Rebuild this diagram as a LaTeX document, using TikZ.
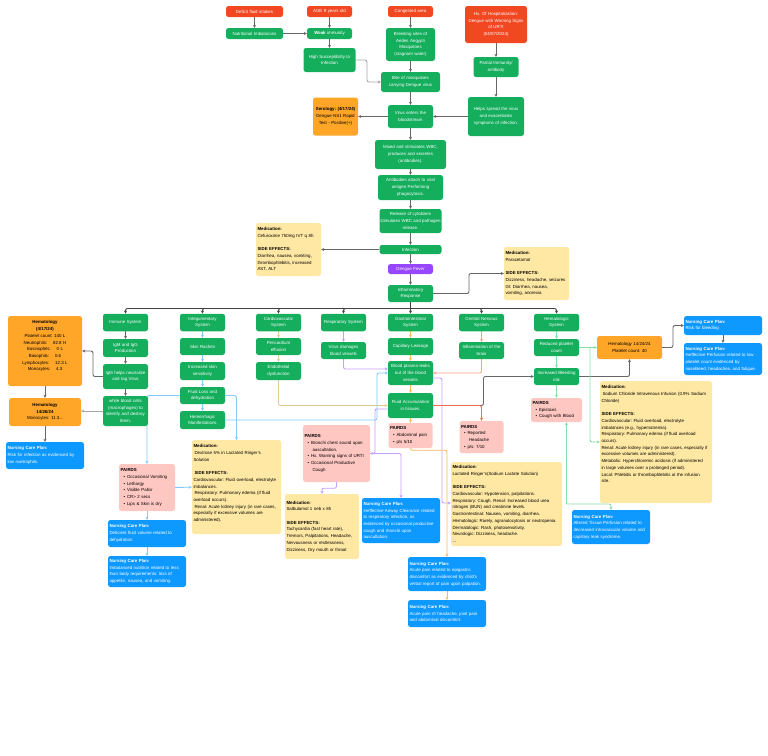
\documentclass[tikz,border=0pt]{standalone}
\usepackage{fontspec}
\setmainfont{Liberation Sans}
\usetikzlibrary{arrows.meta,backgrounds}
\frenchspacing
\definecolor{cgreen}{HTML}{14AE5C}
\definecolor{cred}{HTML}{F24822}
\definecolor{corange}{HTML}{FFA629}
\definecolor{cpurple}{HTML}{9747FF}
\definecolor{cblue}{HTML}{0D99FF}
\definecolor{cpale}{HTML}{FFE8A3}
\definecolor{cpink}{HTML}{FFC7C2}
\definecolor{lblue}{HTML}{80CAFF}
\definecolor{lpurple}{HTML}{C4A0FF}
\definecolor{lorange}{HTML}{FFB95C}
\definecolor{lsalmon}{HTML}{FF9E85}
\definecolor{lgreen}{HTML}{85E0A3}
\definecolor{ltan}{HTML}{E2C98F}
\newcommand{\itm}{\hspace*{3pt}\textbullet\hspace{2pt}}
\newcommand{\cont}{\hspace*{8pt}}
\tikzset{
  base/.style={rounded corners=2.5pt,inner sep=0pt,font=\fontsize{4.4}{6.7}\selectfont},
  sz/.style 2 args={minimum width=#1pt,minimum height=#2pt,text width={#1pt-1pt},inner xsep=.5pt},
  szl/.style 2 args={minimum width=#1pt,minimum height=#2pt,text width={#1pt-3pt},inner xsep=1.5pt},
  greenb/.style={base,fill=cgreen,text=white,align=center},
  redb/.style={base,fill=cred,text=white,align=center},
  purpleb/.style={base,fill=cpurple,text=white,align=center},
  orangeb/.style={base,fill=corange,align=center},
  paleb/.style={base,fill=cpale,align=left},
  pinkb/.style={base,fill=cpink,align=left},
  careb/.style={base,fill=cblue,text=white,align=left},
  flow/.style={->,>={Stealth[length=3pt,width=3pt]},line width=.9pt,rounded corners=2pt,draw=#1},
  flow/.default={black!60}
}
\begin{document}
\begin{tikzpicture}[x=1pt,y=-1pt]
  \useasboundingbox (0,0) rectangle (768,755);
  \node[redb,sz={57}{11}] (deficit) at (254.5,11.5) {Deficit fluid intakes};
  \node[redb,sz={45}{11}] (age) at (329.5,11.5) {AGE 9 years old};
  \node[redb,sz={45}{11}] (congested) at (410.5,11.5) {Congested area};
  \node[redb,sz={62}{37}] (hx) at (496,24.5) {Hx. Of Hospitalization:\\Dengue with Warning Signs\\of URTI\\(04/07/2024)};
  \node[greenb,sz={57}{11}] (nutri) at (254.5,33.5) {Nutritional Imbalances};
  \node[greenb,sz={45}{11}] (weak) at (329.5,33.5) {\textbf{Weak} immunity};
  \node[greenb,sz={52}{24}] (suscept) at (329.5,60) {High Susceptibility to\\Infection};
  \node[greenb,sz={49}{33}] (breeding) at (410.5,44.5) {Breeding sites of\\Aedes Aegypti\\Mosquitoes\\(stagnant water)};
  \node[greenb,sz={59}{20}] (bite) at (410.5,82) {Bite of mosquitoes\\carrying Dengue virus};
  \node[greenb,sz={45}{20}] (partial) at (496,67) {Partial Immunity/\\antibody};
  \node[greenb,sz={56}{39}] (helps) at (496,116.5) {Helps spread the virus\\and exacerbates\\symptoms of infection.};
  \node[greenb,sz={45}{23}] (virus) at (410.5,116.5) {Virus enters the\\bloodstream};
  \node[orangeb,sz={45}{38}] (serology) at (335.5,116.5) {\textbf{Serology: (4/17/24)}\\Dengue NS1 Rapid\\Test - Positive(+)};
  \node[greenb,sz={71}{29}] (mixed) at (410.5,154.5) {Mixed and stimulates WBC,\\produces and secretes\\(antibodies).};
  \node[greenb,sz={65}{25}] (antibody) at (410.5,187.5) {Antibodies attach to viral\\antigen Performing\\phagocytosis.};
  \node[greenb,sz={62}{24}] (cytokine) at (410.5,221) {Release of cytokines\\stimulates WBC and pathogen\\release.};
  \node[greenb,sz={62}{9}] (infection) at (410.5,249.5) {Infection};
  \node[purpleb,sz={45}{10}] (dengue) at (410.5,269) {Dengue Fever};
  \node[greenb,sz={45}{17}] (inflam) at (410.5,293.5) {Inflammatory\\Response};
  \node[paleb,szl={65}{53}] (medcef) at (288.5,249.5) {\textbf{Medication:}\\Cefuroxime 750mg IVT q 8h\\[6.7pt]\textbf{SIDE EFFECTS:}\\Diarrhea, nausea, vomiting,\\thrombophlebitis, increased\\AST, ALT};
  \node[paleb,szl={65}{53}] (medpara) at (536.5,273.5) {\textbf{Medication:}\\Paracetamol\\[6.7pt]\textbf{SIDE EFFECTS:}\\Dizziness, headache, seizures\\GI: Diarrhea, nausea,\\vomiting, anorexia};
  \node[greenb,sz={45}{17.5}] (immune) at (125.5,322.5) {Immune System};
  \node[greenb,sz={45}{18}] (iggm) at (125.5,348) {IgM and IgG\\Production};
  \node[greenb,sz={45}{25}] (igmtag) at (125.5,376.5) {IgM helps neutralize\\and tag Virus};
  \node[greenb,sz={45}{30}] (wbc) at (125.5,411) {white blood cells\\(macrophages) to\\identify and destroy\\them.};
  \node[greenb,sz={45}{17.5}] (integ) at (202.5,322.5) {Integumentary\\System};
  \node[greenb,sz={45}{17}] (skin) at (202.5,346.5) {Skin Rashes};
  \node[greenb,sz={45}{18}] (sens) at (202.5,371) {Increased skin\\sensitivity};
  \node[greenb,sz={45}{17}] (fluidloss) at (202.5,395.5) {Fluid Loss and\\dehydration};
  \node[greenb,sz={45}{18}] (hemorr) at (202.5,420) {Hemorrhagic\\Manifestations};
  \node[greenb,sz={45}{17.5}] (cardio) at (278.5,322.5) {Cardiovascular\\System};
  \node[greenb,sz={45}{17}] (pericard) at (278.5,346.5) {Pericardium\\effusion};
  \node[greenb,sz={45}{18}] (endo) at (278.5,371) {Endothelial\\dysfunction};
  \node[greenb,sz={45}{17.5}] (resp) at (343.5,322.5) {Respiratory System};
  \node[greenb,sz={45}{17}] (vdamage) at (343.5,350.5) {Virus damages\\blood vessels};
  \node[greenb,sz={45}{17.5}] (gastro) at (410.5,322.5) {Gastrointestinal\\System};
  \node[greenb,sz={45}{17}] (capil) at (410.5,346.5) {Capillary Leakage};
  \node[greenb,sz={45}{24}] (plasma) at (410.5,373) {Blood plasma leaks\\out of the blood\\vessels};
  \node[greenb,sz={45}{25}] (accum) at (410.5,405.5) {Fluid Accumulation\\in tissues.};
  \node[pinkb,szl={44}{25}] (pgi) at (410.5,435.5) {\textbf{PAIRDS}\\\itm Abdominal pain\\\itm p/s 5/10};
  \node[greenb,sz={45}{17.5}] (cns) at (481.5,322.5) {Central Nervous\\System};
  \node[greenb,sz={45}{17}] (brain) at (481.5,350.5) {Inflammation of the\\brain};
  \node[pinkb,szl={44}{32}] (pcns) at (481.5,437) {\textbf{PAIRDS}\\\itm Reported\\\cont Headache\\\itm p/s: 7/10};
  \node[greenb,sz={45}{17.5}] (hemasys) at (556.5,322.5) {Hematologic\\System};
  \node[greenb,sz={45}{17}] (platelet) at (556.5,347.5) {Reduced platelet\\count};
  \node[greenb,sz={45}{17}] (bleed) at (556.5,376.5) {Increased Bleeding\\risk};
  \node[pinkb,szl={51}{24}] (pheme) at (556.5,410) {\textbf{PAIRDS}\\\itm Epistaxis\\\itm Cough with Blood};
  \node[orangeb,sz={65}{23}] (hema3) at (629.5,347.5) {Hematology 14/24/24\\Platelet count: 40};
  \node[careb,szl={78}{19}] (ncpbleed) at (723,325.5) {\textbf{Nursing Care Plan:}\\Risk for bleeding};
  \node[careb,szl={78}{32}] (ncpperf) at (723,359) {\textbf{Nursing Care Plan:}\\Ineffective Perfusion related to low\\platelet count evidenced by\\nosebleed, headaches, and fatigue.};
  \node[paleb,szl={112}{122}] (medna) at (656,442) {\textbf{Medication:}\\\hspace*{1pt}Sodium Chloride Intravenous Infusion (0.9\% Sodium\\Chloride)\\[6.7pt]\textbf{SIDE EFFECTS:}\\Cardiovascular: Fluid overload, electrolyte\\imbalances (e.g., hypernatremia).\\Respiratory: Pulmonary edema (if fluid overload\\occurs).\\Renal: Acute kidney injury (in rare cases, especially if\\excessive volumes are administered).\\Metabolic: Hyperchloremic acidosis (if administered\\in large volumes over a prolonged period).\\Local: Phlebitis or thrombophlebitis at the infusion\\site.\\[8.8pt]\mbox{}};
  \node[careb,szl={78}{34}] (ncpalt) at (611,527) {\textbf{Nursing Care Plan:}\\Altered Tissue Perfusion related to\\decreased intravascular volume and\\capillary leak syndrome.};
  \node[orangeb,sz={74}{70}] (hema1) at (45,351) {\textbf{Hematology}\\\textbf{(4/17/24)}\\Platelet count: 140 L\\Neutrophils: \quad 82.8 H\\Eosinophils: \quad 0 L\\Basophils: \quad 0.6\\Lymphocytes: \quad 12.3 L\\Monocytes: \quad 4.3\\[3.7pt]\mbox{}};
  \node[orangeb,sz={72}{28}] (hema2) at (45,412) {\textbf{Hematology}\\\textbf{14/26/24}\\Monocytes: 11.3...};
  \node[careb,szl={78}{27}] (ncpinf) at (45,455.5) {\textbf{Nursing Care Plan:}\\Risk for infection as evidenced by\\low nuetrophils.};
  \node[pinkb,szl={56}{47}] (pint) at (147,487.5) {\textbf{PAIRDS}\\\itm Occasional Vomiting\\\itm Lethargy\\\itm Visible Pallor\\\itm CR> 2 secs\\\itm Lips \& Skin is dry};
  \node[careb,szl={78}{27}] (ncpdef) at (147,533.5) {\textbf{Nursing Care Plan:}\\Deficient fluid volume related to\\dehydration};
  \node[careb,szl={78}{31}] (ncpnut) at (147,571.5) {\textbf{Nursing Care Plan:}\\Imbalanced nutrition related to less\\than body requirements: loss of\\appetite, nausea, and vomiting.};
  \node[paleb,szl={89}{94}] (meddex) at (236.5,487) {\textbf{Medication:}\\\hspace*{1pt}Dextrose 5\% in Lactated Ringer's\\Solution\\[6.7pt]\hspace*{1pt}\textbf{SIDE EFFECTS:}\\Cardiovascular: Fluid overload, electrolyte\\imbalances.\\\hspace*{1pt}Respiratory: Pulmonary edema (if fluid\\overload occurs).\\\hspace*{1pt}Renal: Acute kidney injury (in rare cases,\\especially if excessive volumes are\\administered).\\[.9pt]\mbox{}};
  \node[pinkb,szl={67}{57}] (presp) at (336.5,453.5) {\textbf{PAIRDS}\\\itm Bronchi chest sound upon\\\cont auscultation.\\\itm Hx. Warning signs of URTI\\\itm Occasional Productive\\\cont Cough};
  \node[paleb,szl={74}{65}] (medsal) at (322,526.5) {\textbf{Medication:}\\Salbutamol 1 neb x 8h\\[6.7pt]\textbf{SIDE EFFECTS:}\\Tachycardia (fast heart rate),\\Tremors, Palpitations, Headache,\\Nervousness or restlessness,\\Dizziness, Dry mouth or throat};
  \node[careb,szl={78}{45}] (ncpair) at (401,520.5) {\textbf{Nursing Care Plan:}\\Ineffective Airway Clearance related\\to respiratory infection, as\\evidenced by occasional productive\\cough and rhonchi upon\\auscultation.};
  \node[paleb,szl={111}{84}] (medlac) at (506.5,504) {\textbf{Medication:}\\Lactated Ringer's(Sodium Lactate Solution)\\[6.7pt]\textbf{SIDE EFFECTS:}\\Cardiovascular: Hypotension, palpitations.\\Respiratory: Cough. Renal: Increased blood urea\\nitrogen (BUN) and creatinine levels.\\Gastrointestinal: Nausea, vomiting, diarrhea.\\Hematologic: Rarely, agranulocytosis or neutropenia.\\Dermatologic: Rash, photosensitivity.\\Neurologic: Dizziness, headache.\\...};
  \node[careb,szl={78}{34}] (ncpep) at (447,574) {\textbf{Nursing Care Plan:}\\Acute pain related to epigastric\\discomfort as evidenced by child's\\verbal report of pain upon palpation.};
  \node[careb,szl={78}{27}] (ncpac) at (447,613.5) {\textbf{Nursing Care Plan:}\\Acute pain r/t headache, joint pain\\and abdominal discomfort.};
  \coordinate (bus) at (410.5,308.5);
  \coordinate (tap) at (590,347.5);
  \coordinate (turn) at (566.5,504);
  \begin{scope}[on background layer]
    \foreach \a/\b in {deficit/nutri,nutri/weak,age/weak,weak/suscept,congested/breeding,breeding/bite,bite/virus,hx/partial,partial/helps,helps/virus,virus/serology,virus/mixed,mixed/antibody,antibody/cytokine,cytokine/infection,infection/dengue,dengue/inflam,infection/medcef,immune/iggm,iggm/igmtag,igmtag/wbc,hema1/hema2,hema2/ncpinf,ncpbleed/ncpperf}{
      \draw[flow] (\a) -- (\b);
    }
    \draw[black!75,line width=.9pt] (inflam.south) -- (bus);
    \foreach \s in {immune,integ,cardio,resp,gastro,cns,hemasys}{
      \draw[flow=black!75] (bus) -| (\s.north);
    }
    \draw[flow=black!35] (suscept.east) -- (367,60) |- (bite.west);
    \draw[flow] (inflam.east) -- (469,293.5) |- (medpara.west);
    \draw[flow] (igmtag.west) -- (93,376.5) |- (hema1.east);
    \draw[flow=black!35] (wbc.west) -- (hema2.east |- wbc.west);
    \draw[flow] (accum.east) -- (483.5,405.5) |- (bleed.west);
    \draw[flow] (bleed.east) -| (hema3.south);
    \draw[flow] (hema3.east) -- (673,347.5) |- (ncpbleed.west);
    \foreach \a/\b in {integ/skin,skin/sens,sens/fluidloss,fluidloss/hemorr,pint/ncpdef,ncpdef/ncpnut,pint/meddex}{
      \draw[flow=lblue] (\a) -- (\b);
    }
    \draw[flow=lblue] (fluidloss.west) -| (pint.north);
    \draw[flow=lblue] (fluidloss.east) -| (meddex.north);
    \draw[flow=lblue] (hemorr.east) -- (377,420) |- (plasma.west);
    \foreach \a/\b in {cardio/pericard,pericard/endo}{
      \draw[flow=ltan] (\a) -- (\b);
    }
    \draw[flow=ltan] (endo.south) |- (accum.west);
    \draw[flow=lpurple] (resp) -- (vdamage);
    \draw[flow=lpurple] (vdamage.south) |- (plasma.west |- 0,369);
    \draw[flow=lpurple] (plasma.east |- 0,378) -- (442,378) |- (medlac.west |- 0,503);
    \draw[flow=lpurple] (accum.west |- 0,409) -- (375,409) |- (presp.east);
    \draw[flow=lpurple] (presp.east) -| (ncpair.north);
    \draw[flow=lpurple] (presp.south) -- ++(0,6) -| (medsal.north);
    \foreach \a/\b in {gastro/capil,capil/plasma,plasma/accum,accum/pgi,ncpep/ncpac}{
      \draw[flow=lorange] (\a) -- (\b);
    }
    \draw[flow=lorange] (pgi.south) -- ++(0,2) -| (ncpep.north);
    \draw[flow=lsalmon] (cns) -- (brain);
    \draw[flow=lsalmon] (brain.south) |- (plasma.east);
    \draw[flow=cred!80] (accum.east) -| (pcns.north);
    \foreach \a/\b in {hemasys/platelet,platelet/bleed,bleed/pheme,platelet/hema3}{
      \draw[flow=lgreen] (\a) -- (\b);
    }
    \draw[flow=lgreen] (tap) |- (medna.west);
    \draw[flow=lgreen] (turn) -- (turn |- pheme.south);
    \draw[flow=lgreen] (turn) -| (ncpalt.north);
  \end{scope}
\end{tikzpicture}
\end{document}
